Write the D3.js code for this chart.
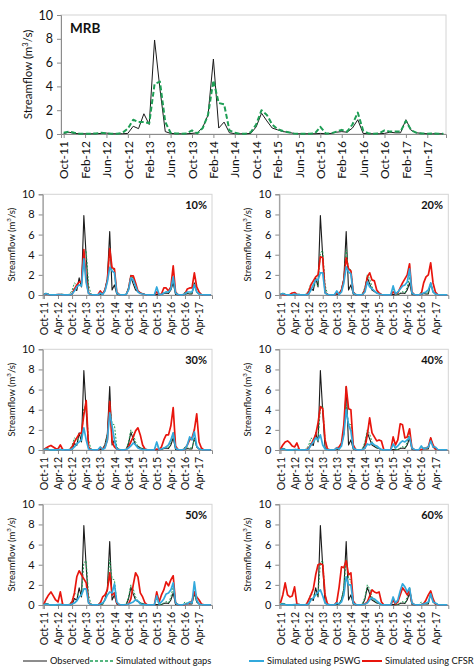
<!DOCTYPE html>
<html><head><meta charset="utf-8">
<script src="https://cdnjs.cloudflare.com/ajax/libs/d3/7.8.5/d3.min.js"></script>
<style>
body{margin:0;background:#fff;}
svg{display:block;font-family:Lato,"Open Sans",sans-serif;}
</style></head>
<body>
<script>
const months = ["Oct-11","Nov-11","Dec-11","Jan-12","Feb-12","Mar-12","Apr-12","May-12","Jun-12","Jul-12","Aug-12","Sep-12",
"Oct-12","Nov-12","Dec-12","Jan-13","Feb-13","Mar-13","Apr-13","May-13","Jun-13","Jul-13","Aug-13","Sep-13",
"Oct-13","Nov-13","Dec-13","Jan-14","Feb-14","Mar-14","Apr-14","May-14","Jun-14","Jul-14","Aug-14","Sep-14",
"Oct-14","Nov-14","Dec-14","Jan-15","Feb-15","Mar-15","Apr-15","May-15","Jun-15","Jul-15","Aug-15","Sep-15",
"Oct-15","Nov-15","Dec-15","Jan-16","Feb-16","Mar-16","Apr-16","May-16","Jun-16","Jul-16","Aug-16","Sep-16",
"Oct-16","Nov-16","Dec-16","Jan-17","Feb-17","Mar-17","Apr-17","May-17","Jun-17","Jul-17","Aug-17","Sep-17"];

const topTicks = ["Oct-11","Feb-12","Jun-12","Oct-12","Feb-13","Jun-13","Oct-13","Feb-14","Jun-14","Oct-14","Feb-15","Jun-15","Oct-15","Feb-16","Jun-16","Oct-16","Feb-17","Jun-17"];
const smallTicks = ["Oct-11","Apr-12","Oct-12","Apr-13","Oct-13","Apr-14","Oct-14","Apr-15","Oct-15","Apr-16","Oct-16","Apr-17"];
const yTicks = [0,2,4,6,8,10];
const panelLabels = ["10%","20%","30%","40%","50%","60%"];
const legendLabels = ["Observed","Simulated without gaps","Simulated using PSWG","Simulated using CFSR"];

const observed = [0.05,0.15,0.05,0.02,0.02,0.02,0.02,0.05,0.08,0.02,0.02,0.02,
0.05,0.65,0.45,1.7,0.8,7.9,3.8,0.2,0.05,0.02,0.02,0.02,
0.05,0.1,0.55,1.6,6.3,0.5,1.0,0.1,0.03,0.02,0.02,0.05,
0.6,1.75,1.1,0.5,0.35,0.2,0.15,0.05,0.02,0.02,0.02,0.02,
0.05,0.02,0.05,0.15,0.2,0.15,0.5,1.2,0.05,0.02,0.02,0.02,
0.05,0.15,0.1,0.1,1.2,0.3,0.1,0.05,0.02,0.02,0.02,0.02];

const noGaps = [0.1,0.2,0.1,0.02,0.02,0.02,0.05,0.1,0.05,0.02,0.02,0.1,
0.45,1.2,1.0,1.0,0.9,4.2,4.4,1.0,0.1,0.05,0.02,0.05,
0.3,0.05,0.5,1.6,4.5,2.6,2.5,0.3,0.1,0.02,0.02,0.15,
0.8,2.0,1.6,0.8,0.4,0.25,0.15,0.05,0.02,0.02,0.02,0.05,
0.6,0.05,0.05,0.2,0.35,0.2,0.8,1.8,0.3,0.05,0.02,0.05,
0.3,0.2,0.2,0.2,1.1,0.3,0.1,0.05,0.02,0.05,0.02,0.02];

const pswg10 = [0.05,0.15,0.05,0.02,0.02,0.02,0.05,0.05,0.02,0.02,0.02,0.02,
0.1,0.4,0.8,1.0,0.9,3.6,1.2,0.15,0.05,0.02,0.02,0.02,
0.2,0.05,0.4,1.3,2.75,2.4,2.2,0.2,0.05,0.02,0.02,0.05,
0.5,1.7,1.5,0.9,0.3,0.15,0.1,0.05,0.02,0.02,0.02,0.02,
0.8,0.05,0.05,0.2,0.3,0.3,0.6,1.8,0.2,0.05,0.02,0.02,
0.1,0.3,0.3,0.3,1.0,0.3,0.1,0.05,0.02,0.02,0.02,0.02];
const cfsr10 = [0.05,0.1,0.05,0.02,0.02,0.02,0.05,0.05,0.02,0.02,0.02,0.02,
0.1,0.6,1.0,1.3,1.3,4.5,1.5,0.2,0.05,0.02,0.02,0.02,
0.4,0.1,0.5,1.5,4.6,2.7,2.6,0.3,0.05,0.02,0.02,0.05,
0.6,1.9,1.9,1.2,0.4,0.2,0.1,0.05,0.02,0.02,0.02,0.02,
0.3,0.05,0.1,0.7,0.7,0.4,0.8,2.9,0.3,0.05,0.02,0.02,
0.1,0.6,0.7,0.7,2.2,0.8,0.3,0.05,0.02,0.02,0.02,0.02];

const pswg20 = [0.05,0.15,0.05,0.02,0.02,0.02,0.1,0.05,0.02,0.02,0.02,0.02,
0.1,0.5,1.0,1.5,1.5,2.2,2.2,0.2,0.05,0.02,0.02,0.02,
0.4,0.05,0.3,1.2,2.8,2.3,2.1,0.2,0.05,0.02,0.02,0.05,
0.3,1.3,0.8,0.6,0.4,0.2,0.1,0.05,0.02,0.02,0.02,0.02,
0.9,0.1,0.3,0.6,0.9,1.0,1.3,2.6,0.2,0.05,0.02,0.02,
0.1,0.2,0.3,0.5,1.2,0.3,0.1,0.05,0.02,0.02,0.02,0.02];
const cfsr20 = [0.05,0.05,0.02,0.02,0.05,0.2,0.25,0.05,0.02,0.02,0.02,0.02,
0.3,1.0,1.4,1.8,2.0,3.8,3.7,0.3,0.05,0.02,0.02,0.02,
0.2,0.1,0.5,1.5,3.7,2.6,2.4,0.3,0.05,0.02,0.02,0.05,
0.5,1.8,2.2,1.5,1.4,0.5,0.2,0.05,0.02,0.02,0.02,0.02,
0.3,0.1,0.2,0.7,1.2,1.6,2.0,3.1,0.3,0.05,0.02,0.02,
0.1,1.2,1.8,2.0,3.2,1.2,0.3,0.05,0.02,0.02,0.02,0.02];

const pswg30 = [0.05,0.1,0.05,0.02,0.02,0.02,0.05,0.05,0.02,0.02,0.02,0.02,
0.1,0.3,0.6,0.8,1.0,2.2,1.0,0.1,0.05,0.02,0.02,0.02,
0.3,0.05,0.2,1.0,3.7,2.4,1.0,0.1,0.05,0.02,0.02,0.05,
0.2,0.4,0.7,0.5,0.2,0.1,0.05,0.05,0.02,0.02,0.02,0.02,
0.8,0.05,0.1,0.2,0.3,0.5,1.0,1.7,0.2,0.05,0.02,0.02,
0.1,0.5,1.3,1.0,1.8,0.4,0.1,0.05,0.02,0.02,0.02,0.02];
const cfsr30 = [0.05,0.2,0.35,0.45,0.3,0.15,0.1,0.5,0.05,0.02,0.02,0.02,
0.3,0.8,1.2,1.6,1.7,3.5,4.9,0.3,0.05,0.02,0.02,0.02,
0.2,0.1,0.3,1.0,4.8,0.8,0.3,0.1,0.05,0.02,0.02,0.05,
0.3,0.8,1.3,1.9,2.2,1.5,0.5,0.1,0.02,0.02,0.02,0.02,
0.1,0.05,0.3,1.0,1.5,1.5,2.4,4.2,0.4,0.05,0.02,0.02,
0.1,0.5,1.0,1.2,2.0,3.6,0.8,0.2,0.02,0.02,0.02,0.02];

const pswg40 = [0.05,0.1,0.05,0.02,0.02,0.02,0.05,0.05,0.02,0.02,0.02,0.02,
0.1,0.5,0.8,1.2,1.0,1.5,0.5,0.1,0.05,0.02,0.02,0.02,
0.2,0.1,0.4,1.5,4.0,2.5,1.9,0.2,0.05,0.02,0.02,0.05,
0.2,0.6,0.5,0.7,0.5,0.4,0.2,0.05,0.02,0.02,0.02,0.02,
0.6,0.2,0.4,0.7,0.9,0.8,1.0,1.3,0.2,0.05,0.02,0.02,
0.4,0.1,0.2,0.3,0.9,0.3,0.3,0.05,0.02,0.02,0.02,0.02];
const cfsr40 = [0.1,0.5,0.8,0.9,0.7,0.4,0.3,0.7,0.05,0.02,0.02,0.02,
0.2,0.5,1.0,1.5,2.7,4.3,4.1,1.0,0.1,0.02,0.02,0.02,
0.2,0.3,0.7,2.5,6.3,4.1,4.0,0.5,0.05,0.02,0.02,0.05,
0.2,1.5,3.2,1.7,1.3,0.9,1.0,0.9,0.05,0.02,0.02,0.02,
1.3,0.5,1.0,2.6,2.5,1.2,1.3,2.1,0.2,0.05,0.02,0.02,
0.05,0.1,0.2,0.3,1.2,0.5,0.1,0.05,0.02,0.02,0.02,0.02];

const pswg50 = [0.05,0.1,0.05,0.02,0.02,0.02,0.05,0.05,0.02,0.02,0.02,0.02,
0.1,0.2,0.4,0.8,1.0,1.6,1.6,0.2,0.05,0.02,0.02,0.02,
0.1,0.2,0.5,1.0,1.3,1.2,2.1,0.3,0.05,0.02,0.02,0.05,
0.1,0.2,0.3,0.5,0.4,0.1,0.05,0.05,0.02,0.02,0.02,0.02,
0.9,0.1,0.3,0.6,1.1,1.2,1.5,2.2,0.2,0.05,0.02,0.02,
0.1,0.1,0.3,0.2,2.3,0.5,0.1,0.05,0.02,0.02,0.02,0.02];
const cfsr50 = [0.1,0.6,1.0,1.3,0.9,0.5,0.3,1.3,0.05,0.02,0.02,0.02,
0.3,1.2,2.8,3.4,3.0,2.6,2.2,0.3,0.05,0.02,0.02,0.02,
0.2,0.8,1.0,1.5,3.2,1.0,1.2,0.2,0.05,0.02,0.02,0.05,
0.1,0.6,2.0,3.2,2.8,1.2,0.8,0.2,0.02,0.02,0.02,0.02,
1.3,0.3,1.0,1.5,2.3,1.9,2.5,2.9,0.2,0.05,0.02,0.02,
0.05,0.1,0.2,0.4,1.3,0.8,0.5,0.1,0.02,0.02,0.02,0.02];

const pswg60 = [0.05,0.1,0.05,0.02,0.02,0.02,0.05,0.05,0.02,0.02,0.02,0.02,
0.1,0.5,0.7,1.0,1.3,1.5,0.9,0.2,0.05,0.02,0.02,0.02,
0.2,0.1,0.3,1.0,2.8,2.0,2.0,0.2,0.05,0.02,0.02,0.05,
0.1,0.2,0.5,0.7,0.6,0.4,0.2,0.05,0.02,0.02,0.02,0.02,
0.8,0.2,0.5,1.4,2.1,1.8,1.3,1.7,0.2,0.05,0.02,0.02,
0.05,0.1,0.2,0.3,1.1,0.3,0.2,0.05,0.02,0.02,0.02,0.02];
const cfsr60 = [0.2,1.0,2.2,1.0,0.8,0.9,1.8,0.1,0.02,0.02,0.02,0.02,
0.5,1.0,1.6,3.0,4.0,4.1,4.0,1.0,0.1,0.02,0.02,0.02,
0.3,1.8,3.8,3.7,4.4,3.0,3.2,0.4,0.05,0.02,0.02,0.05,
0.1,0.3,0.9,1.5,1.3,1.2,1.3,0.3,0.02,0.02,0.02,0.02,
0.5,0.1,0.3,1.0,1.7,1.4,1.0,1.5,0.2,0.05,0.02,0.02,
0.05,0.1,0.5,1.0,1.4,0.6,0.1,0.05,0.02,0.02,0.02,0.02];

const pswgSets = [pswg10,pswg20,pswg30,pswg40,pswg50,pswg60];
const cfsrSets = [cfsr10,cfsr20,cfsr30,cfsr40,cfsr50,cfsr60];

const C = {obs:"#1a1a1a", green:"#1e9e55", blue:"#33a9dc", red:"#e8150d"};

const W=474,H=671;
const svg=d3.select("body").append("svg").attr("width",W).attr("height",H);

function panel(o){
  const g=svg.append("g");
  const x=d3.scalePoint().domain(months).range([o.x0,o.x1]).padding(0.5);
  const y=d3.scaleLinear().domain([0,10]).range([o.y0,o.y1]);
  g.append("rect").attr("x",o.x0).attr("y",o.y1).attr("width",o.x1-o.x0).attr("height",o.y0-o.y1)
   .attr("fill","none").attr("stroke","#d4d4d4").attr("stroke-width",1);
  const ya=g.append("g").attr("transform",`translate(${o.x0},0)`)
    .call(d3.axisLeft(y).tickValues(yTicks).tickSize(4).tickPadding(o.ypad).tickFormat(d3.format("d")));
  ya.select(".domain").attr("stroke","#8c8c8c");
  ya.selectAll(".tick line").attr("stroke","#8c8c8c");
  ya.selectAll("text").attr("font-size",o.yfs).attr("fill","#111").attr("font-family","Lato,sans-serif");
  const xa=g.append("g").attr("transform",`translate(0,${o.y0})`)
    .call(d3.axisBottom(x).tickValues(o.ticks).tickSize(4).tickPadding(2));
  xa.select(".domain").attr("stroke","#8c8c8c");
  xa.selectAll(".tick line").attr("stroke","#8c8c8c");
  xa.selectAll("text").attr("font-size",o.xfs).attr("fill","#111").attr("font-family","Lato,sans-serif")
    .attr("text-anchor","end").attr("transform","rotate(-90)").attr("x",-7).attr("y",0).attr("dy","0.35em");
  g.append("text").attr("transform",`translate(${o.tx},${(o.y0+o.y1)/2}) rotate(-90)`)
    .attr("text-anchor","middle").attr("font-size",o.tfs).attr("fill","#111")
    .html('Streamflow (m<tspan dy="-4" font-size="'+(o.tfs*0.65)+'">3</tspan><tspan dy="4">/s)</tspan>');
  g.append("text").attr("x",o.lx).attr("y",o.ly).attr("text-anchor",o.lanchor).attr("font-weight","bold")
    .attr("font-size",o.lfs).attr("fill","#111").text(o.label);
  const line=d3.line().x((d,i)=>x(months[i])).y(d=>y(d));
  o.series.forEach(s=>{
    g.append("path").datum(s.data).attr("d",line).attr("fill","none").attr("stroke",s.color)
     .attr("stroke-width",s.w).attr("stroke-dasharray",s.dash||null).attr("stroke-linejoin","round");
  });
}

panel({x0:61,x1:446,y0:134,y1:15,ticks:topTicks,ypad:4,yfs:12.5,xfs:12,tx:32,tfs:11.5,
  lx:70,ly:33,lanchor:"start",lfs:13.5,label:"MRB",
  series:[{data:observed,color:C.obs,w:1},{data:noGaps,color:C.green,w:2,dash:"5,2.5"}]});

const cols=[{x0:42.7,x1:212,tx:15,lx:207},{x0:279.3,x1:448.3,tx:251,lx:443}];
const rows=[{y0:295,y1:194.3},{y0:450,y1:349.3},{y0:605,y1:504.3}];
panelLabels.forEach((lab,k)=>{
  const c=cols[k%2], r=rows[Math.floor(k/2)];
  panel({x0:c.x0,x1:c.x1,y0:r.y0,y1:r.y1,ticks:smallTicks,ypad:4,yfs:11,xfs:10.5,tx:c.tx,tfs:9.5,
    lx:c.lx,ly:r.y1+15,lanchor:"end",lfs:11,label:lab,
    series:[{data:observed,color:C.obs,w:1.1},
            {data:noGaps,color:C.green,w:1,dash:"2,1.5"},
            {data:cfsrSets[k],color:C.red,w:1.7},
            {data:pswgSets[k],color:C.blue,w:1.7}]});
});

const leg=[{x1:23,x2:47,tx:50,c:C.obs,w:1,dash:null},
           {x1:90,x2:113,tx:116,c:C.green,w:1.5,dash:"3,2"},
           {x1:249,x2:264,tx:267,c:C.blue,w:2,dash:null},
           {x1:362,x2:382,tx:385,c:C.red,w:2,dash:null}];
const ly=661;
leg.forEach((l,i)=>{
  svg.append("line").attr("x1",l.x1).attr("x2",l.x2).attr("y1",ly).attr("y2",ly)
    .attr("stroke",l.c).attr("stroke-width",l.w).attr("stroke-dasharray",l.dash);
  svg.append("text").attr("x",l.tx).attr("y",ly).attr("dy","0.35em").attr("font-size",9.3)
    .attr("fill","#111").text(legendLabels[i]);
});
</script>
</body></html>
